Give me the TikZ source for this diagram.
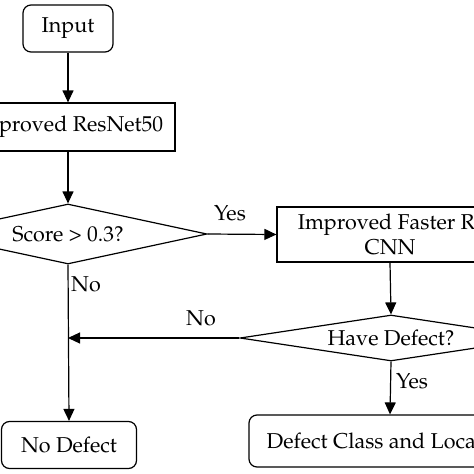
\documentclass[tikz,border=0pt]{standalone}
\usepackage[T1]{fontenc}
\usepackage{mathpazo}
\usetikzlibrary{shapes.geometric,arrows.meta}
\begin{document}
\begin{tikzpicture}[x=1pt,y=-1pt,
  font=\fontsize{21.5}{25.5}\selectfont,
  line width=1.2pt,
  arr/.style={-{Triangle[length=12pt,width=11pt]}},
  rbox/.style={draw,rounded corners=8pt,inner sep=0pt,align=center},
  pbox/.style={draw,inner sep=0pt,align=center},
  dbox/.style={draw,diamond,aspect=4.6,inner sep=0pt},
  lbl/.style={anchor=base,inner sep=0pt}]
\useasboundingbox (0,0) rectangle (474,474);
\clip (0,0) rectangle (474,474);
\node[rbox,minimum width=90pt,minimum height=47pt] (in) at (68,28.5) {Input};
\node[pbox,minimum width=214pt,minimum height=48pt] (res) at (68,127) {Improved ResNet50};
\node[dbox,minimum width=278pt,minimum height=60pt] (d1) at (68,234) {Score > 0.3?};
\node[pbox,minimum width=226pt,minimum height=55pt] (frc) at (390,234.5) {Improved Faster R-\\CNN};
\node[dbox,minimum width=302pt,minimum height=46pt] (d2) at (391,338) {Have Defect?};
\node[rbox,minimum width=135pt,minimum height=47pt] (nod) at (69,445) {No Defect};
\node[rbox,minimum width=282pt,minimum height=52pt] (dcl) at (390,441) {Defect Class and Location};
\coordinate (j) at (68,338);
\draw[arr] (in.south) -- (res.north);
\draw[arr] (res.south) -- (d1.north);
\draw[arr] (d1.east) -- (frc.west);
\draw[arr] (frc.south) -- (d2.north);
\draw[arr] (d2.west) -- (j);
\draw[arr] (d1.south) -- (nod.north);
\draw[arr] (d2.south) -- (dcl.north);
\node[lbl] (ly1) at (230,220) {Yes};
\node[lbl] (ln1) at (86,291) {No};
\node[lbl] (ln2) at (201,325) {No};
\node[lbl] (ly2) at (412,388) {Yes};
\end{tikzpicture}
\end{document}
